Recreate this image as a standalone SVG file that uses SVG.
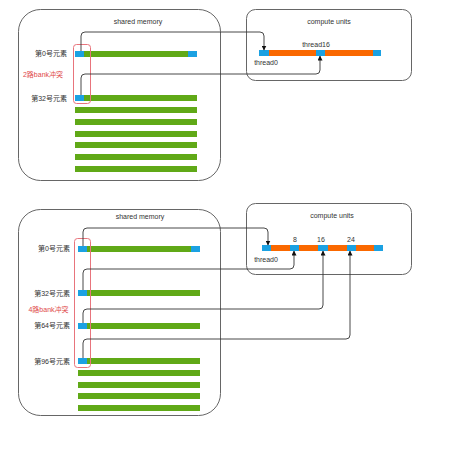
<svg xmlns="http://www.w3.org/2000/svg" width="474" height="465" viewBox="0 0 474 465">
<style>
text{font-family:"Liberation Sans","Noto Sans CJK SC",sans-serif;font-size:7px;fill:#333}
.red{fill:#e04848}
.box{fill:none;stroke:#666;stroke-width:1}
.conflict{fill:none;stroke:#e8747c;stroke-width:1}
.g{fill:#60a917}
.b{fill:#1ba1e2}
.o{fill:#fa6800}
.c{fill:none;stroke:#333;stroke-width:0.9;marker-end:url(#ah)}
</style>
<defs>
<marker id="ah" markerWidth="5" markerHeight="5" refX="4.5" refY="2.5" orient="auto" markerUnits="userSpaceOnUse">
<path d="M0,0 L5,2.5 L0,5 Z" fill="#111"/>
</marker>
</defs>
<rect width="474" height="465" fill="#fff"/>

<!-- TOP DIAGRAM -->
<g id="shared-memory-1">
<rect class="box" x="18.5" y="9.5" width="202" height="171" rx="22"/>
<text x="138" y="23.5" text-anchor="middle">shared memory</text>
<rect class="g" x="75" y="51" width="122" height="6"/>
<rect class="b" x="75" y="51" width="9" height="6"/>
<rect class="b" x="188" y="51" width="9" height="6"/>
<rect class="g" x="75" y="95" width="122" height="6"/>
<rect class="b" x="75" y="95" width="9" height="6"/>
<rect class="g" x="75" y="107" width="122" height="6"/>
<rect class="g" x="75" y="119" width="122" height="6"/>
<rect class="g" x="75" y="131" width="122" height="6"/>
<rect class="g" x="75" y="142" width="122" height="6"/>
<rect class="g" x="75" y="154" width="122" height="6"/>
<rect class="g" x="75" y="166" width="122" height="6"/>
<text x="67" y="56" text-anchor="end">第0号元素</text>
<text x="67" y="101" text-anchor="end">第32号元素</text>
<text class="red" x="43" y="77" text-anchor="middle">2路bank冲突</text>
<rect class="conflict" x="73.5" y="44.5" width="17" height="59" rx="3"/>
</g>
<g id="compute-units-1">
<rect class="box" x="246.5" y="9.5" width="165" height="71" rx="9"/>
<text x="329" y="23.5" text-anchor="middle">compute units</text>
<rect class="o" x="259" y="50" width="122" height="6"/>
<rect class="b" x="259" y="50" width="10" height="6"/>
<rect class="b" x="316" y="50" width="9" height="6"/>
<rect class="b" x="373" y="50" width="8" height="6"/>
<text x="316" y="47" text-anchor="middle">thread16</text>
<text x="266" y="64.5" text-anchor="middle">thread0</text>
</g>

<!-- BOTTOM DIAGRAM -->
<g id="shared-memory-2">
<rect class="box" x="18.5" y="209.5" width="202" height="206" rx="22"/>
<text x="140" y="218.5" text-anchor="middle">shared memory</text>
<rect class="g" x="78" y="246" width="122" height="6"/>
<rect class="b" x="78" y="246" width="9" height="6"/>
<rect class="b" x="191" y="246" width="9" height="6"/>
<rect class="g" x="78" y="290" width="122" height="6"/>
<rect class="b" x="78" y="290" width="9" height="6"/>
<rect class="g" x="78" y="323" width="122" height="6"/>
<rect class="b" x="78" y="323" width="9" height="6"/>
<rect class="g" x="78" y="358" width="122" height="6"/>
<rect class="b" x="78" y="358" width="9" height="6"/>
<rect class="g" x="78" y="370" width="122" height="6"/>
<rect class="g" x="78" y="382" width="122" height="6"/>
<rect class="g" x="78" y="393" width="122" height="6"/>
<rect class="g" x="78" y="405" width="122" height="6"/>
<text x="70" y="251" text-anchor="end">第0号元素</text>
<text x="70" y="296" text-anchor="end">第32号元素</text>
<text class="red" x="48.5" y="312" text-anchor="middle">4路bank冲突</text>
<text x="70" y="328" text-anchor="end">第64号元素</text>
<text x="70" y="364" text-anchor="end">第96号元素</text>
<rect class="conflict" x="74.5" y="238.5" width="16" height="129" rx="3"/>
</g>
<g id="compute-units-2">
<rect class="box" x="246.5" y="203.5" width="165" height="71" rx="9"/>
<text x="332" y="217.5" text-anchor="middle">compute units</text>
<rect class="o" x="262" y="245" width="121" height="6"/>
<rect class="b" x="262" y="245" width="9" height="6"/>
<rect class="b" x="290" y="245" width="9" height="6"/>
<rect class="b" x="318" y="245" width="10" height="6"/>
<rect class="b" x="347" y="245" width="9" height="6"/>
<rect class="b" x="374" y="245" width="9" height="6"/>
<text x="295" y="241.5" text-anchor="middle">8</text>
<text x="321" y="241.5" text-anchor="middle">16</text>
<text x="351" y="241.5" text-anchor="middle">24</text>
<text x="266" y="261.5" text-anchor="middle">thread0</text>
</g>

<g id="connectors">
<path class="c" d="M81,51 V36 Q81,32 85,32 H260 Q264,32 264,36 V50"/>
<path class="c" d="M81,95 V78 Q81,74 85,74 H316 Q320,74 320,70 V56"/>
<path class="c" d="M83,246 V232 Q83,228 87,228 H264 Q268,228 268,232 V245"/>
<path class="c" d="M83,290 V273 Q83,269 87,269 H290 Q294,269 294,265 V251"/>
<path class="c" d="M83,323 V313 Q83,309 87,309 H319 Q323,309 323,305 V251"/>
<path class="c" d="M83,358 V343 Q83,339 87,339 H346 Q350,339 350,335 V251"/>
</g>
</svg>
